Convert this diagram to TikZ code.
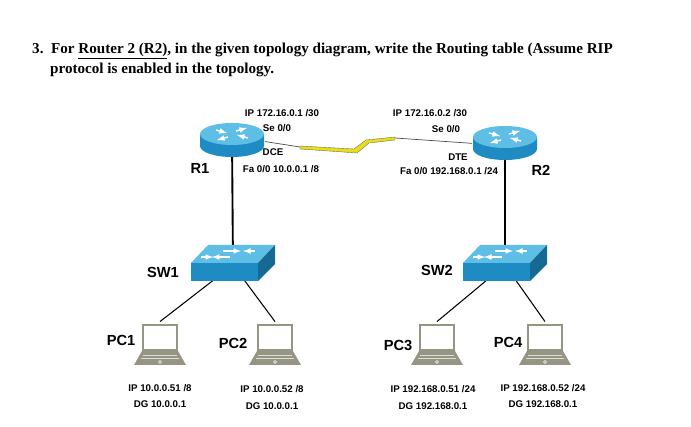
\documentclass[tikz,border=0pt]{standalone}
\usepackage{fontspec}
\setmainfont{Liberation Serif}
\newfontfamily\lblfont{Liberation Sans}
\usetikzlibrary{positioning}
\definecolor{ciscoblue}{RGB}{30,140,195}
\definecolor{ciscotop}{RGB}{95,190,230}
\definecolor{pcgray}{RGB}{150,148,130}
\tikzset{
  lbl/.style = {font=\lblfont\bfseries\fontsize{8.3}{9}\selectfont, inner sep=0pt},
  devlbl/.style = {font=\lblfont\bfseries\fontsize{12.5}{13}\selectfont, inner sep=0pt},
  dev/.style = {minimum width=#1, minimum height=30, inner sep=0pt},
  link/.style = {line width=1.6pt},
  plink/.style = {line width=0.9pt},
  warr/.style = {white, line width=1.2pt, -latex}
}
% router icon at a node
\newcommand{\routerpic}[1]{%
  \begin{scope}[shift={(#1)}]
  \fill[ciscoblue] (-32,-4) -- (-32,8) arc[start angle=180,end angle=0,x radius=32,y radius=11] -- (32,-4) -- cycle;
  \fill[ciscotop] (0,-4) ellipse[x radius=32, y radius=11];
  \draw[warr] (-16,-8) -- (-5,-5);
  \draw[warr] (16,0) -- (5,-3);
  \draw[warr] (-4,-1) -- (-15,2);
  \draw[warr] (4,-7) -- (15,-10);
  \end{scope}
}
% switch icon at a node
\newcommand{\switchpic}[1]{%
  \begin{scope}[shift={(#1)}]
  \fill[ciscotop] (-42,-2) -- (-25,-20) -- (42,-20) -- (25,-2) -- cycle;
  \fill[ciscoblue] (-42,-2) rectangle (25,16);
  \fill[ciscoblue!75!black] (25,-2) -- (42,-20) -- (42,-1) -- (25,16) -- cycle;
  \draw[warr] (-10,-14) -- (8,-14);
  \draw[warr] (22,-14) -- (10,-14);
  \draw[warr] (-3,-8) -- (-21,-8);
  \draw[warr] (-32,-8) -- (-20,-8);
  \end{scope}
}
% laptop icon at a node
\newcommand{\laptoppic}[1]{%
  \begin{scope}[shift={(#1)}]
  \filldraw[fill=white, draw=pcgray, line width=2pt] (-17,-20) rectangle (17,5);
  \fill[pcgray] (-18,6) -- (18,6) -- (26,20) -- (-26,20) -- cycle;
  \draw[white!70!pcgray] (-17,10) -- (17,10) (-19,13) -- (19,13);
  \draw[white] (0,17) circle (1.5);
  \end{scope}
}
\begin{document}
\begin{tikzpicture}[x=0.03cm, y=-0.03cm]
\useasboundingbox (0,0) rectangle (691,427);
% title
\node[anchor=west, font=\bfseries\fontsize{12.9}{14}\selectfont, inner sep=0pt] (title1) at (32,51)
  {3.\ \ For \underline{Router 2 (R2)}, in the given topology diagram, write the Routing table (Assume RIP};
\node[anchor=west, font=\bfseries\fontsize{12.9}{14}\selectfont, inner sep=0pt] (title2) at (50,70)
  {protocol is enabled in the topology.};
% devices
\node[dev=64] (r1) at (232,138) {};
\node[dev=64] (r2) at (505,141) {};
\node[dev=84] (sw1) at (233,265) {};
\node[dev=84] (sw2) at (505,265) {};
\node[dev=52] (pc1) at (160,345) {};
\node[dev=52] (pc2) at (275,345) {};
\node[dev=52] (pc3) at (437,345) {};
\node[dev=52] (pc4) at (545,345) {};
% links
\draw[link] (r1.center) -- (sw1.center);
\draw[link] (r2.center) -- (sw2.center);
\foreach \s/\p in {sw1/pc1, sw1/pc2, sw2/pc3, sw2/pc4}
  \draw[plink] (\s.center) -- ([yshift=20]\p.center);
\coordinate (z1) at (357,153);
\coordinate (z2) at (366,140);
\draw[black!70, line width=0.6pt] ([xshift=28,yshift=-3]r1.center) -- (300,147);
\draw[black!70, line width=0.6pt] (395,138) -- ([xshift=-28,yshift=-2]r2.center);
\filldraw[fill=yellow!90!black, draw=black!60, line width=0.3pt]
  (300,146) -- (354,149) -- (z2) -- (395,137) -- (395,140) -- (369,143) -- (z1) -- (300,149) -- cycle;
% icons
\routerpic{r1.center}
\routerpic{r2.center}
\switchpic{sw1.center}
\switchpic{sw2.center}
\foreach \p in {pc1, pc2, pc3, pc4} {\laptoppic{\p.center}}
% labels
\node[devlbl] (r1lbl) at (200,168) {R1};
\node[devlbl] (r2lbl) at (541,170) {R2};
\node[devlbl] (sw1lbl) at (163,272) {SW1};
\node[devlbl] (sw2lbl) at (437,270) {SW2};
\node[devlbl] (pc1lbl) at (121,340) {PC1};
\node[devlbl] (pc2lbl) at (233,343) {PC2};
\node[devlbl] (pc3lbl) at (398,345) {PC3};
\node[devlbl] (pc4lbl) at (508,342) {PC4};
\node[lbl] at (282,113) {IP 172.16.0.1 /30};
\node[lbl] at (277,128) {Se 0/0};
\node[lbl] at (273,152) {DCE};
\node[lbl] at (281,169) {Fa 0/0 10.0.0.1 /8};
\node[lbl] at (430,113) {IP 172.16.0.2 /30};
\node[lbl] at (446,129) {Se 0/0};
\node[lbl] at (458,157) {DTE};
\node[lbl] at (449,171) {Fa 0/0 192.168.0.1 /24};
\node[lbl] at (160,388) {IP 10.0.0.51 /8};
\node[lbl] at (160,404) {DG 10.0.0.1};
\node[lbl] at (272,389) {IP 10.0.0.52 /8};
\node[lbl] at (272,406) {DG 10.0.0.1};
\node[lbl] at (433,389) {IP 192.168.0.51 /24};
\node[lbl] at (433,406) {DG 192.168.0.1};
\node[lbl] at (543,388) {IP 192.168.0.52 /24};
\node[lbl] at (543,404) {DG 192.168.0.1};
\end{tikzpicture}
\end{document}
